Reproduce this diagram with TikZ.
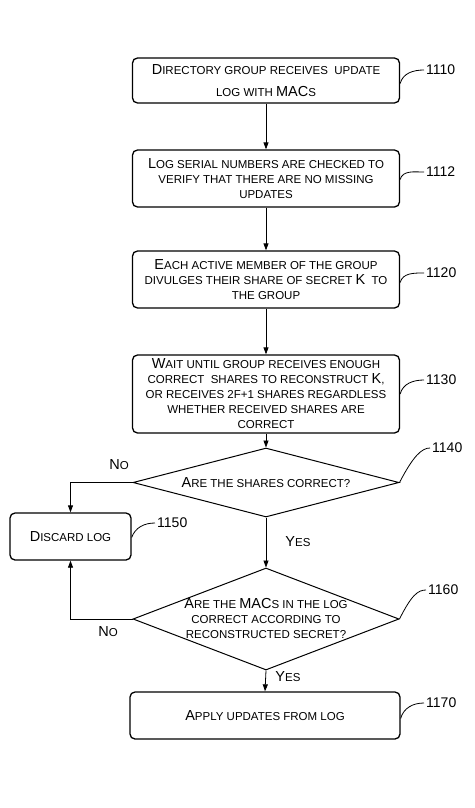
\documentclass[tikz,border=0pt]{standalone}
\usepackage{fontspec}
\setmainfont{Liberation Sans}
\usetikzlibrary{shapes.geometric,arrows.meta}
\newcommand\BigL[1]{{\fontsize{14.5pt}{15pt}\selectfont #1}}
\begin{document}
\begin{tikzpicture}[x=1pt,y=-1pt,
  every node/.style={inner sep=0pt},
  box/.style={draw, line width=1.3pt, rounded corners=5pt, align=center, font=\fontsize{11.5pt}{15pt}\selectfont},
  dec/.style={draw, shape=diamond, line width=1pt, minimum width=266pt},
  txt/.style={align=center, font=\fontsize{11.5pt}{15pt}\selectfont},
  num/.style={anchor=west, inner sep=2pt, font=\fontsize{14pt}{16pt}\selectfont},
  arr/.style={line width=0.8pt, -{Triangle[length=7pt,width=5pt]}},
  lead/.style={line width=0.8pt}]
\path[use as bounding box] (0,0) rectangle (474,808);

\node[box, minimum width=267pt, minimum height=45pt, font=\fontsize{11.5pt}{22pt}\selectfont] (b1) at (266,80.5)
  {\BigL{D}IRECTORY GROUP RECEIVES \ UPDATE\\LOG WITH \BigL{MAC}S};
\node[box, minimum width=267pt, minimum height=57pt] (b2) at (266,178.5)
  {\BigL{L}OG SERIAL NUMBERS ARE CHECKED TO\\VERIFY THAT THERE ARE NO MISSING\\UPDATES};
\node[box, minimum width=267pt, minimum height=57pt] (b3) at (266,279.5)
  {\BigL{E}ACH ACTIVE MEMBER OF THE GROUP\\DIVULGES THEIR SHARE OF SECRET \BigL{K} \ TO\\THE GROUP};
\node[box, minimum width=267pt, minimum height=78pt] (b4) at (266,394)
  {\BigL{W}AIT UNTIL GROUP RECEIVES ENOUGH\\CORRECT \ SHARES TO RECONSTRUCT \BigL{K},\\OR RECEIVES 2F+1 SHARES REGARDLESS\\WHETHER RECEIVED SHARES ARE\\CORRECT};
\node[dec, minimum height=69pt] (d1) at (266,482.5) {};
\node[txt] (d1t) at (266,482.5) {\BigL{A}RE THE SHARES CORRECT?};
\node[box, minimum width=121pt, minimum height=47pt] (dis) at (70.5,536.5) {\BigL{D}ISCARD LOG};
\node[dec, minimum height=102pt] (d2) at (266,619) {};
\node[txt] (d2t) at (266,618) {\BigL{A}RE THE \BigL{MAC}S IN THE LOG\\CORRECT ACCORDING TO\\RECONSTRUCTED SECRET?};
\node[box, minimum width=270pt, minimum height=47pt] (b5) at (265,715.5) {\BigL{A}PPLY UPDATES FROM LOG};

\node[txt] (no1) at (119,465) {\BigL{N}O};
\node[txt] (yes1) at (298,542) {\BigL{Y}ES};
\node[txt] (no2) at (108,632) {\BigL{N}O};
\node[txt] (yes2) at (288,677) {\BigL{Y}ES};

\node[num] (l1110) at (424,70) {1110};
\node[num] (l1112) at (424,172) {1112};
\node[num] (l1120) at (424,273) {1120};
\node[num] (l1130) at (424,380) {1130};
\node[num] (l1140) at (430,448) {1140};
\node[num] (l1150) at (155,523) {1150};
\node[num] (l1160) at (426,590) {1160};
\node[num] (l1170) at (424,703) {1170};

\draw[arr] (b1.south) -- (b2.north);
\draw[arr] (b2.south) -- (b3.north);
\draw[arr] (b3.south) -- (b4.north);
\draw[arr] (b4.south) -- (d1.north);
\draw[arr] (d1.south) -- (d2.north);
\draw[arr] (d2.south) -- (b5.north);
\draw[arr] (d1.west) -| (dis.north);
\draw[arr] (d2.west) -| (dis.south);

\draw[lead] ([yshift=-3pt]b1.east) to[out=75,in=180] (l1110.west);
\draw[lead] ([yshift=-1pt]b2.east) to[out=75,in=180] (l1112.west);
\draw[lead] ([yshift=-3pt]b3.east) to[out=75,in=180] (l1120.west);
\draw[lead] ([yshift=0pt]b4.east) to[out=75,in=180] (l1130.west);
\draw[lead] (d1.east) .. controls +(14,-27) and +(-8,0) .. (l1140.west);
\draw[lead] ([yshift=-1pt]dis.east) to[out=70,in=180] (l1150.west);
\draw[lead] (d2.east) .. controls +(12,-24) and +(-8,0) .. (l1160.west);
\draw[lead] ([yshift=-3pt]b5.east) to[out=75,in=180] (l1170.west);
\end{tikzpicture}
\end{document}
